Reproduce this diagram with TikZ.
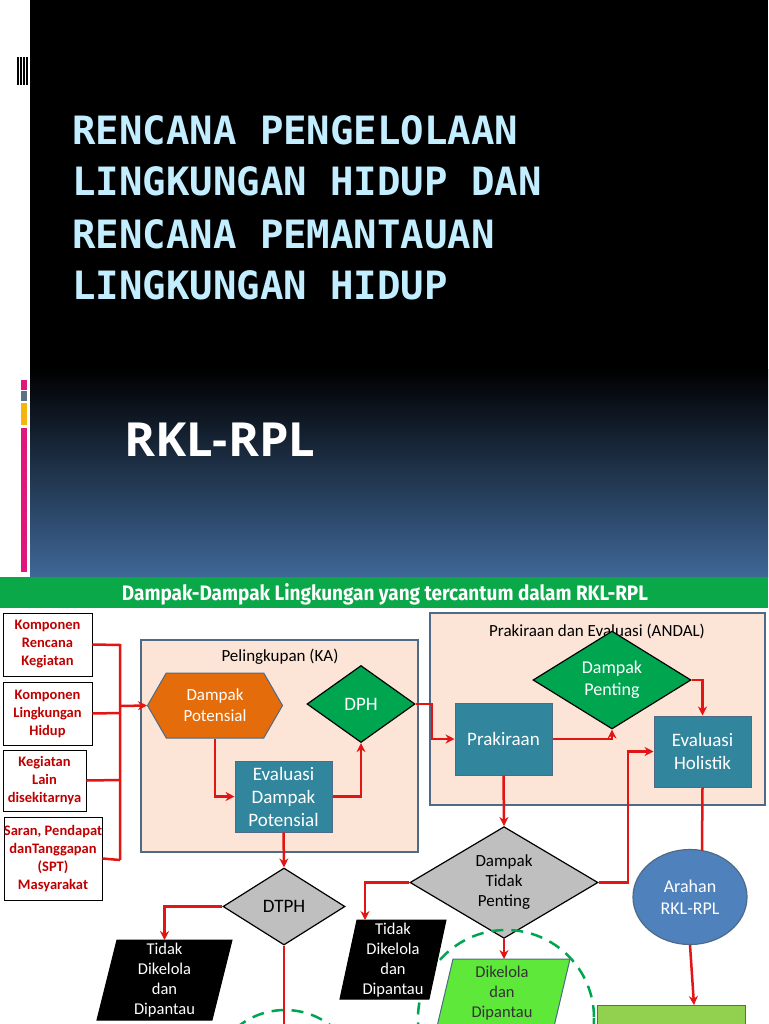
\documentclass[tikz,border=0pt]{standalone}
\usepackage{fontspec}
\setmainfont{Carlito}
\newfontfamily\monof{DejaVu Sans Mono}
\newfontfamily\rklf{Open Sans}
\newfontfamily\headf{Fira Sans}
\usetikzlibrary{shapes.geometric,shapes.symbols,arrows.meta}
\definecolor{titlecyan}{HTML}{C3EEFF}
\definecolor{bandgreen}{HTML}{0BA84A}
\definecolor{dred}{HTML}{C00000}
\definecolor{lred}{HTML}{E31414}
\definecolor{peach}{HTML}{FCE4D6}
\definecolor{slate}{HTML}{4F6A86}
\definecolor{teal}{HTML}{31859C}
\definecolor{orng}{HTML}{E46C0A}
\definecolor{dgreen}{HTML}{00A550}
\definecolor{gry}{HTML}{BFBFBF}
\definecolor{bgreen}{HTML}{5EE83A}
\definecolor{lgreen}{HTML}{92D050}
\definecolor{blu}{HTML}{4F81BD}
\definecolor{pinkm}{HTML}{E0177A}
\definecolor{goldm}{HTML}{F5B50F}
\tikzset{
 inbox/.style={draw=black,fill=white,line width=0.8pt,font=\bfseries\fontsize{14.5}{18}\selectfont,text=dred,align=center,inner sep=0pt},
 frame/.style={draw=slate,fill=peach,line width=1.5pt},
 tealbox/.style={draw=slate,fill=teal,line width=1pt,text=white,font=\fontsize{19}{23}\selectfont,align=center,inner sep=0pt},
 dia/.style={diamond,draw=black,line width=1.2pt,inner sep=0pt,align=center,font=\fontsize{19}{21}\selectfont},
 arr/.style={draw=lred,line width=2.5pt,-{Stealth[length=9pt,width=9pt]}},
 ln/.style={draw=lred,line width=2.5pt},
 para/.style={draw=black,line width=1pt},
 ptext/.style={align=center,font=\fontsize{16.5}{20}\selectfont},
 gcirc/.style={draw=dgreen,line width=2.5pt,dash pattern=on 12pt off 8pt}
}
\begin{document}
\begin{tikzpicture}[x=1pt,y=-1pt]
\useasboundingbox (0,0) rectangle (768,1024);
\clip (0,0) rectangle (768,1024);
\fill[white] (0,0) rectangle (768,1024);
% slide
\fill[black] (30,0) rectangle (768,370);
\shade[top color=black,bottom color=blu!80!black] (30,369) rectangle (768,577);
\foreach \xx in {17,20,23,26} \fill[black] (\xx,57) rectangle ++(1.6,28);
\fill[pinkm] (21,380) rectangle (27,390);
\fill[slate!70!gray] (21,391) rectangle (27,401);
\fill[goldm] (21,403) rectangle (27,425);
\fill[pinkm] (21,428) rectangle (27,572);
\node[anchor=base west,text=titlecyan,font=\monof\bfseries\fontsize{39}{40}\selectfont,inner sep=0] (title) at (72,145) {RENCANA PENGELOLAAN};
\node[anchor=base west,text=titlecyan,font=\monof\bfseries\fontsize{39}{40}\selectfont,inner sep=0] (t2) at (72,196) {LINGKUNGAN HIDUP DAN};
\node[anchor=base west,text=titlecyan,font=\monof\bfseries\fontsize{39}{40}\selectfont,inner sep=0] (t3) at (72,248) {RENCANA PEMANTAUAN};
\node[anchor=base west,text=titlecyan,font=\monof\bfseries\fontsize{39}{40}\selectfont,inner sep=0] (t4) at (72,299) {LINGKUNGAN HIDUP};
\node[anchor=base west,text=white,font=\rklf\bfseries\fontsize{47}{48}\selectfont,inner sep=0] (rkl) at (124,456) {RKL-RPL};
% band
\fill[bandgreen] (0,577) rectangle (768,608);
\node[text=white,inner sep=0,anchor=base] (hd) at (385,600) {\resizebox{526pt}{17pt}{\headf\bfseries Dampak-Dampak Lingkungan yang tercantum dalam RKL-RPL}};
% frames
\draw[frame] (141,640) rectangle (418,852);
\node[font=\fontsize{17}{19}\selectfont] (ka) at (280,657) {Pelingkupan (KA)};
\draw[frame] (430,613) rectangle (765,805);
\node[font=\fontsize{17}{19}\selectfont] (andal) at (597,631) {Prakiraan dan Evaluasi (ANDAL)};
% inputs
\node[inbox,minimum width=89,minimum height=63] (k1) at (47.5,644.5) {Komponen\\Rencana\\Kegiatan};
\node[inbox,minimum width=89,minimum height=63] (k2) at (47.5,713.5) {Komponen\\Lingkungan\\Hidup};
\node[inbox,minimum width=83,minimum height=61] (k3) at (44.5,780.5) {Kegiatan\\Lain\\disekitarnya};
\node[inbox,minimum width=96,minimum height=83] (k4) at (53,858.5) {Saran, Pendapat\\danTanggapan\\(SPT)\\Masyarakat};
\coordinate (bus) at (120,706);
% hexagon
\node[signal,signal to=west and east,signal pointer angle=120,draw=slate,fill=orng,line width=1pt,minimum width=135,minimum height=65,inner sep=0,text=white,align=center,font=\fontsize{17}{21}\selectfont] (dp) at (215,705.5) {Dampak\\Potensial};
\node[dia,fill=dgreen,text=white,minimum width=108,minimum height=77] (dph) at (361,704) {DPH};
\node[tealbox,minimum width=97,minimum height=71] (edp) at (283.5,796.5) {Evaluasi\\Dampak\\Potensial};
\node[dia,fill=gry,minimum width=122,minimum height=77] (dtph) at (284,906.5) {DTPH};
\node[tealbox,minimum width=97,minimum height=72] (pra) at (503.5,739) {Prakiraan};
\node[dia,fill=dgreen,text=white,minimum width=158,minimum height=76,font=\fontsize{18}{22}\selectfont] (dpen) at (612,680) {Dampak\\Penting};
\node[tealbox,minimum width=97,minimum height=71] (eh) at (702.5,751.5) {Evaluasi\\Holistik};
\node[dia,fill=gry,minimum width=188,minimum height=89,font=\fontsize{17}{20}\selectfont] (dtp) at (504,882.5) {Dampak\\Tidak\\Penting};
\node[ellipse,draw=slate,fill=blu,line width=1.2pt,minimum width=114,minimum height=95,inner sep=0,text=white,align=center,font=\fontsize{18}{22}\selectfont] (ar) at (690,897) {Arahan\\RKL-RPL};
\node[draw=slate,fill=lgreen,line width=1pt,minimum width=148,minimum height=40,inner sep=0,anchor=north west] (gb) at (597,1005) {};
% dashed circles
\draw[gcirc] (285,1085) circle (75);
\draw[gcirc] (506,1018) circle (88);
% parallelograms
\draw[para,fill=black] (117,940) -- (232,940) -- (212,1020) -- (97,1020) -- cycle;
\node[ptext,text=white] (p1) at (164.5,980) {Tidak\\Dikelola\\dan\\Dipantau};
\draw[para,fill=black] (357,920) -- (446,920) -- (429,999) -- (340,999) -- cycle;
\node[ptext,text=white] (p2) at (393,960) {Tidak\\Dikelola\\dan\\Dipantau};
\draw[para,fill=bgreen,draw=slate] (453,959) -- (570,959) -- (552,1035) -- (435,1035) -- cycle;
\node[ptext,text=black!80] (p3) at (502,993) {Dikelola\\dan\\Dipantau};
% connectors
\draw[ln] (k1.east) -- (120,645) -- (120,860);
\draw[ln] (k2.east) -- (120,713);
\draw[ln] (k3.east) -- (120,780);
\draw[ln] (k4.east) -- (120,860);
\draw[arr] (bus) -- (dp.west);
\draw[arr] (dp.south) |- (edp.west);
\draw[arr] (edp.east) -| (dph.south);
\draw[arr] (edp.south) -- (dtph.north);
\draw[arr] (dtph.west) -| (p1.north |- 0,940);
\draw[ln] (dtph.south) -- (284,1030);
\draw[arr] (dph.east) -- (432,704) |- (pra.west);
\draw[arr] (pra.east) -| (dpen.south);
\draw[arr] (dpen.east) -| (eh.north);
\draw[arr] (pra.south) -- (dtp.north);
\draw[arr] (dtp.east) -- (628,882.5) |- (eh.west);
\draw[arr] (dtp.west) -| (365,920);
\draw[arr] (dtp.south) -- (504,959);
\draw[ln] (eh.south) -- (702,850.5);
\draw[arr] (ar.south) -- (694,1005);
\end{tikzpicture}
\end{document}
